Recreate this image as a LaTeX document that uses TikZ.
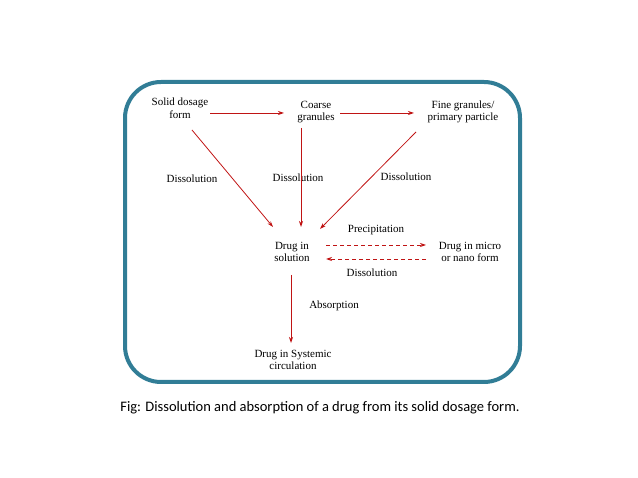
\documentclass[tikz,border=0pt]{standalone}
\usepackage{fontspec}
\setmainfont{Liberation Serif}
\newfontfamily\capfont{Carlito}
\usetikzlibrary{arrows.meta}
\definecolor{frame}{RGB}{49,125,150}
\definecolor{arr}{RGB}{192,20,20}
\begin{document}
\begin{tikzpicture}[x=1pt,y=-1pt,
  lbl/.style={font=\fontsize{11}{12.5}\selectfont,align=center,inner sep=1pt},
  con/.style={draw=arr,line width=0.8pt,-{Stealth[length=6pt,width=4pt]}},
  dcon/.style={draw=arr,line width=0.8pt,-{Stealth[length=6pt,width=4pt]},dash pattern=on 4pt off 3pt}]
\useasboundingbox (0,0) rectangle (638,478);
\draw[frame,line width=4pt,rounded corners=36pt] (125,82) rectangle (520,382);
\node[lbl] (solid) at (180,108) {Solid dosage\\form};
\node[lbl] (coarse) at (316,112) {Coarse\\granules};
\node[lbl] (fine) at (463,112) {Fine granules/\\primary particle};
\node[lbl] (d1) at (192,179) {Dissolution};
\node[lbl] (d2) at (298,178) {Dissolution};
\node[lbl] (d3) at (406,177) {Dissolution};
\node[lbl] (sol) at (292,252) {Drug in\\solution};
\node[lbl] (nano) at (470,252) {Drug in micro\\or nano form};
\node[lbl] (prec) at (376,230) {Precipitation};
\node[lbl] (d4) at (372,273) {Dissolution};
\node[lbl] (abs) at (334,306) {Absorption};
\node[lbl] (sys) at (293,360) {Drug in Systemic\\circulation};
\node[font=\capfont\fontsize{14.5}{16}\selectfont] (cap) at (320,408) {Fig: Dissolution and absorption of a drug from its solid dosage form.};
\coordinate (a1) at (210,113); \coordinate (a2) at (284,113);
\coordinate (b1) at (340,113); \coordinate (b2) at (414,113);
\coordinate (c1) at (192,130); \coordinate (c2) at (273,227);
\coordinate (e1) at (301,128); \coordinate (e2) at (301,227);
\coordinate (f1) at (416,132); \coordinate (f2) at (320,229);
\coordinate (g1) at (326,245); \coordinate (g2) at (426,245);
\coordinate (h1) at (426,259); \coordinate (h2) at (326,259);
\coordinate (k1) at (291,275); \coordinate (k2) at (291,343);
\draw[con] (a1) -- (a2);
\draw[con] (b1) -- (b2);
\draw[con] (c1) -- (c2);
\draw[con] (e1) -- (e2);
\draw[con] (f1) -- (f2);
\draw[dcon] (g1) -- (g2);
\draw[dcon] (h1) -- (h2);
\draw[con] (k1) -- (k2);
\end{tikzpicture}
\end{document}
